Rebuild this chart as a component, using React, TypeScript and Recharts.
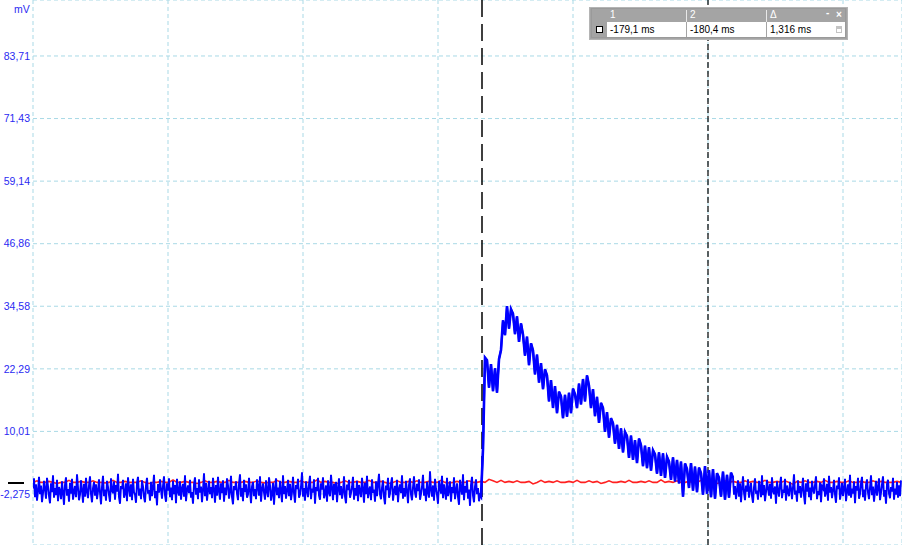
import { LineChart, Line, XAxis, YAxis, CartesianGrid, ReferenceLine } from 'recharts'

// channel A (blue) before the trigger, 1 px per sample
const preTrigger = [
  -1.2, 0.8, -2.9, -0.4, -3.6, -1.7, 1.1, -2.3, -0.6, -3.9, -2.1, 0.3, -1.4, -3.2, 0.9, -0.8,
  -2.7, -4.1, -0.2, -1.9, 1.4, -3.0, -1.1, -2.5, 0.5, -3.7, -0.9, -1.6, -3.3, 0.2, -2.0, -4.4,
  -0.5, 1.0, -2.6, -1.3, -3.8, -0.1, -2.2, 0.7, -3.4, -1.8, -0.7, -2.9, 1.6, -1.0, -3.5, -2.4,
  0.4, -1.5, -4.0, -0.3, -2.8, 0.9, -1.9, -3.1, -0.6, 1.2, -2.3, -3.9, -1.1, 0.1, -2.6, -0.4,
  -3.3, -1.7, 0.6, -2.0, -4.3, -0.8, 1.3, -2.7, -1.4, -3.6, 0.3, -0.9, -2.5, -3.8, 0.8, -1.6,
  -2.1, 0.2, -3.4, -0.5, -1.8, 1.7, -2.9, -4.2, -0.7, -1.3, 0.5, -3.0, -2.2, -0.2, -3.7, 1.0,
  -1.1, -2.8, -0.4, -3.5, 0.7, -1.9, -2.4, -4.0, -0.1, 1.1, -2.6, -1.2, -3.3, 0.4, -0.8, -2.9,
  -3.9, -0.6, 0.9, -2.2, -1.5, -3.6, 0.1, -2.7, -0.9, 1.5, -3.1, -1.7, -4.5, -0.3, -2.0, 0.6,
  -1.4, -3.2, -0.7, 1.2, -2.5, -3.8, -0.2, -1.6, 0.8, -2.9, -1.0, -3.5, 0.3, -2.3, -0.5, -4.1,
  0.7, -1.8, -2.6, 0.2, -3.4, -1.2, -0.3, -2.8, 1.4, -3.7, -1.5, -0.6, -2.1, 0.5, -3.0, -1.9,
  -4.2, -0.4, 1.0, -2.4, -1.1, -3.3, 0.6, -2.0, -0.8, -3.9, -1.4, 1.8, -2.7, -0.1, -3.6, -1.6,
  0.3, -2.3, -0.9, -3.1, 0.9, -1.3, -4.0, -0.5, -2.6, 1.1, -1.7, -3.4, -0.2, -2.1, 0.4, -3.8,
  -1.0, -2.5, 0.8, -0.6, -3.2, -1.8, 1.3, -2.9, -4.3, -0.7, -1.5, 0.2, -2.2, -3.5, -0.3, 1.6,
  -2.8, -1.1, -3.7, 0.5, -1.9, -0.4, -3.0, -2.4, 0.9, -1.6, -4.1, -0.8, 0.1, -2.7, -1.3, -3.3,
  0.6, -0.9, -2.6, 1.2, -3.8, -1.4, -0.2, -2.0, -3.4, 0.4, -1.7, -2.9, 1.0, -0.6, -3.6, -2.2,
  -0.1, -4.4, -1.2, 0.8, -2.5, -1.0, -3.1, 0.3, -1.8, -3.9, 1.4, -2.3, -0.7, -3.2, -1.5, 0.5,
  -2.7, -0.3, -3.5, -1.9, 1.1, -2.1, -4.0, -0.5, -1.3, 0.7, -3.0, -2.4, -0.8, 2.0, -2.8, -1.1,
  -3.6, 0.2, -1.6, -2.9, -0.4, 1.3, -3.3, -1.2, -2.0, 0.6, -4.2, -0.9, -1.7, 0.9, -2.6, -3.4,
  -0.2, -1.4, 1.0, -3.1, -2.2, -0.6, -3.8, 0.4, -1.9, -2.7, 1.5, -1.0, -3.5, -0.3, -2.4, 0.1,
  -3.9, -1.3, 0.8, -2.5, -0.7, -3.2, -1.8, 1.2, -2.8, -4.1, -0.4, -1.5, 0.5, -3.0, -2.1, -0.9,
  1.1, -3.4, -1.1, -2.6, 0.3, -3.7, -0.5, -1.7, -2.9, 0.9, -1.2, -4.0, -0.1, -2.3, 1.3, -3.1,
  -1.6, -0.8, -3.5, 0.6, -2.0, -1.4, -3.8, 0.2, -2.7, -0.3, 1.7, -2.4, -3.3, -1.0, 0.4, -2.9,
  -4.3, -0.6, -1.5, 0.9, -3.0, -2.2, -0.2, 1.0, -3.6, -1.8, -0.7, -2.5, 0.5, -3.9, -1.3, -0.4,
  -2.1, 1.4, -3.2, -1.1, -2.8, 0.3, -1.6, -4.1, -0.5, 0.8, -2.4, -3.5, -0.9, 1.2, -2.0, -3.0,
  -0.3, -1.7, 0.6, -3.4, -2.3, -0.8, 1.5, -2.6, -1.2, -3.7, 0.1, -1.9, -3.0, 2.2, -1.4, -2.8,
  -0.6, -3.6, 0.7, -1.3, -2.5, -4.2, 0.3, -1.0, -2.2, 1.3, -3.1, -0.4, -1.8, -3.4, 0.9, -2.7,
  -1.5, 0.2, -3.8, -0.9, -2.1, 1.0, -3.3, -1.6, -0.2, -2.9, -4.4, 0.5, -1.2, -2.4, 1.6, -3.5,
  -0.7, -2.0, 0.4, -3.2, -1.4, -4.6, -0.5, 1.1, -2.6, -3.9, -0.8, 0.6, -2.3, -1.1, -3.7, -2.5,
]

// trigger edge and evoked response, 2 px per sample
const onset = [-2.8, 6.5, 24.5]

const response = [
  24.0, 18.6, 23.2, 17.9, 22.4, 17.6, 24.2, 26.0, 31.8, 28.9, 34.6, 30.2, 34.0, 33.1, 29.1, 32.6,
  27.6, 31.2, 29.0, 24.9, 28.6, 23.0, 27.3, 25.9, 21.2, 25.1, 19.6, 23.4, 18.3, 22.2, 21.0, 15.9,
  20.1, 14.6, 18.9, 13.6, 17.8, 16.9, 12.6, 17.2, 12.9, 17.6, 13.6, 18.4, 17.3, 14.6, 19.4, 15.3,
  20.3, 15.9, 21.0, 19.0, 14.6, 18.3, 13.0, 16.8, 11.7, 15.6, 14.6, 9.9, 13.8, 8.8, 12.6, 11.6,
  7.6, 11.3, 6.6, 10.6, 5.9, 9.9, 9.1, 4.8, 9.2, 4.4, 8.3, 3.8, 8.6, 7.3, 3.2, 7.2,
  2.8, 6.9, 2.3, 6.3, 5.5, 1.7, 5.9, 1.3, 5.7, 0.9, 5.0, 4.1, 0.5, 4.9, 0.2, 4.4,
  -0.2, 4.1, -2.8, 3.7, 2.6, -1.1, 3.8, -1.6, 3.1, -1.9, 2.9, 1.8, -2.4, 3.2, -2.2, 2.4,
  -2.9, 2.6, -3.2, 1.8, 0.9, -2.8, 2.1, -3.4, 1.5, -3.0, 1.9,
]

// back on the baseline, 1 px per sample
const tail = [
  0.9, -2.4, -0.7, -3.3, -1.5, 0.4, -2.8, -0.2, -3.9, -1.1, 1.2, -2.0, -3.5, -0.6, -1.8, 0.6,
  -3.0, -1.3, -0.1, -2.7, -4.0, -0.9, 0.8, -2.2, -1.6, -3.4, 0.3, -1.0, -2.9, 1.4, -2.5, -0.5,
  -3.7, -1.9, 0.5, -1.2, -2.6, -0.3, -3.2, 1.0, -1.7, -2.3, -0.8, -4.2, 0.2, -1.5, -2.8, -0.4,
  1.1, -3.1, -1.4, -2.0, 0.7, -3.6, -0.6, -1.9, -2.7, 0.1, -1.1, -3.3, -0.9, 1.6, -2.4, -1.6,
  -3.8, 0.4, -2.1, -0.7, -3.0, -1.3, 0.9, -2.6, -4.3, -0.2, -1.8, 0.6, -2.9, -1.0, -3.5, 0.3,
  -1.4, -2.2, -0.5, 1.2, -3.3, -1.7, -2.5, 0.0, -3.9, -0.8, -1.2, 0.8, -2.8, -1.9, -0.3, -3.6,
  1.3, -2.0, -0.9, -3.1, -1.5, 0.5, -2.4, -4.0, -0.6, -1.3, 1.0, -3.4, -2.1, -0.1, -2.7, -1.1,
  0.7, -3.7, -1.8, -0.4, -2.6, 1.5, -3.0, -1.2, -2.2, 0.2, -4.1, -0.7, -1.6, 0.9, -3.2, -2.3,
  -0.2, 1.1, -2.9, -1.4, -3.6, -0.5, 0.6, -2.0, -3.3, -1.0, 1.4, -2.5, -0.8, -3.8, -1.7, 0.3,
  -2.6, -1.1, 0.8, -3.5, -2.0, -0.4, 1.2, -2.8, -1.5, -4.2, -0.3, 0.5, -2.2, -3.1, -0.9, -1.8,
  0.9, -3.4, -1.2, -2.4, 0.1, -3.0, -0.6, -2.7, 0.4,
]

// channel B (red), 4 px per sample
const channelB = [
  0, 0.3, 0, 0, 0.2, 0, -0.2, 0, 0, 0.4, 0, 0, 0.2, 0, 0, 0.3,
  0, 0, -0.1, 0, 0.4, 0, 0, 0.2, 0, 0, 0, 0.3, 0, -0.2, 0, 0,
  0.2, 0, 0, 0.5, 0, 0, 0.2, 0, 0, -0.2, 0, 0.3, 0, 0, 0.2, 0,
  0, 0.4, 0, 0, 0, 0.2, 0, 0, 0.3, 0, -0.1, 0, 0, 0.4, 0, 0,
  0.2, 0, 0, 0.3, 0, 0, 0, 0.5, 0, 0.2, 0, 0, -0.2, 0, 0.3, 0,
  0, 0.2, 0, 0, 0.4, 0, 0, 0.2, 0, -0.2, 0, 0.3, 0, 0, 0.2, 0,
  0.3, 0, 0, 0.2, 0, 0, 0.4, 0, -0.1, 0, 0.2, 0, 0, 0.3, 0, 0,
  0.2, 0, 0.6, 0.3, 0, 0.4, 0, 0.2, 0, 0.3, 0, 0, 0.2, -0.3, 0, 0.4,
  0, 0.2, 0, 0.3, 0, 0, 0.2, 0, 0.4, 0, 0, 0.3, 0, 0.2, -0.2, 0,
  0.3, 0, 0, 0.2, 0, 0.4, 0, 0, 0.2, 0, 0.3, 0, 0, 0.5, 0, 0.2,
  0, 0.3, 0, 0, 0.2, 0, 0, 0.4, 0, 0.2, 0, -0.2, 0, 0.3, 0, 0.2,
  0, 0, 0.3, 0, 0.2, 0, 0, 0.4, 0, 0, 0.2, 0, 0.3, 0, -0.4, 0.2,
  0, 0.3, 0, 0, 0.2, 0, 0.4, 0, 0, 0.2, 0, 0, 0.3, 0, 0, 0.2,
  0, 0, 0.3, 0, 0.2, 0, 0, 0, 0.2, 0,
]

const yTicks = [-2.275, 10.01, 22.29, 34.58, 46.86, 59.14, 71.43, 83.71]
const xGrid = [0, 135, 270, 405, 540, 675, 810]
const cursor1 = 449
const cursor2 = 675
const cursorRow = ['-179,1 ms', '-180,4 ms', '1,316 ms']

// time base: each segment has its own sample step
const segments: [number[], number][] = [
  [preTrigger, 1],
  [[...onset, ...response], 2],
  [tail, 1],
]
const blueData: { x: number; a: number }[] = []
let t = 0
segments.forEach(([vals, step]) => {
  vals.forEach((v) => {
    blueData.push({ x: t, a: v })
    t += step
  })
})
// the evoked part gets drawn a bit heavier, like the dense trace on screen
const evokedData = blueData.slice(preTrigger.length - 1, preTrigger.length + onset.length + response.length + 1)
const redData = channelB.map((v, i) => ({ x: i * 4, b: v }))

const fmt = (v: number) => String(v).replace('.', ',')

const font = '"Liberation Sans", Arial, sans-serif'

function CursorBox() {
  const cell: React.CSSProperties = {
    position: 'absolute',
    top: 14,
    height: 15,
    background: '#fff',
    fontSize: 10,
    lineHeight: '15px',
    color: '#000',
    paddingLeft: 3,
    boxSizing: 'border-box',
  }
  const head: React.CSSProperties = {
    position: 'absolute',
    top: 0,
    fontSize: 10,
    lineHeight: '13px',
    color: '#fff',
  }
  return (
    <div
      style={{
        position: 'absolute',
        left: 589,
        top: 7,
        width: 259,
        height: 33,
        border: '1px solid #b4b4b4',
        background: '#a4a4a4',
        boxSizing: 'border-box',
        fontFamily: font,
      }}
    >
      <div style={{ position: 'absolute', left: 1, top: 0, width: 255, height: 30, border: '1px solid #9a9a9a', boxSizing: 'border-box' }} />
      <span style={{ ...head, left: 20 }}>1</span>
      <span style={{ ...head, left: 100 }}>2</span>
      <span style={{ ...head, left: 180 }}>Δ</span>
      <div style={{ position: 'absolute', left: 96, top: 2, width: 1, height: 12, background: '#e8e8e8' }} />
      <div style={{ position: 'absolute', left: 176, top: 2, width: 1, height: 12, background: '#e8e8e8' }} />
      <span style={{ ...head, left: 236, top: -2, fontWeight: 700 }}>-</span>
      <span style={{ ...head, left: 246, fontWeight: 700 }}>×</span>
      <div style={{ position: 'absolute', left: 6, top: 18, width: 7, height: 7, border: '1px solid #000', background: '#fff', boxSizing: 'border-box' }} />
      <div style={{ ...cell, left: 17, width: 79 }}>{cursorRow[0]}</div>
      <div style={{ ...cell, left: 97, width: 79 }}>{cursorRow[1]}</div>
      <div style={{ ...cell, left: 177, width: 78 }}>{cursorRow[2]}</div>
      <div style={{ position: 'absolute', left: 246, top: 18, width: 6, height: 7, border: '1px solid #c4c4c4', borderTopWidth: 3, boxSizing: 'border-box' }} />
    </div>
  )
}

export default function App() {
  return (
    <div style={{ position: 'absolute', left: 0, top: 0, width: 902, height: 545, background: '#fff', overflow: 'hidden' }}>
      <LineChart width={902} height={545} margin={{ top: 0, right: 0, bottom: 0, left: 0 }}>
        <CartesianGrid strokeDasharray="4 3" stroke="#a9d9e6" />
        <XAxis type="number" dataKey="x" domain={[0, 869]} ticks={xGrid} hide allowDataOverflow />
        <YAxis
          type="number"
          domain={[-12.29, 94.7]}
          ticks={yTicks}
          width={33}
          axisLine={false}
          tickLine={false}
          tickSize={0}
          tickMargin={3}
          tickFormatter={fmt}
          tick={{ fill: '#2a2af2', fontSize: 10.5, fontFamily: font }}
          allowDataOverflow
        />
        <ReferenceLine x={cursor1} stroke="#000" strokeWidth={1.5} strokeDasharray="17 7" />
        <ReferenceLine x={cursor2} stroke="#000" strokeWidth={1.2} strokeDasharray="6 3" />
        <Line
          data={redData}
          dataKey="b"
          type="linear"
          stroke="#ff2020"
          strokeWidth={1.6}
          dot={false}
          activeDot={false}
          isAnimationActive={false}
        />
        <Line
          data={blueData}
          dataKey="a"
          type="linear"
          stroke="#0000ff"
          strokeWidth={1.9}
          dot={false}
          activeDot={false}
          isAnimationActive={false}
        />
        <Line
          data={evokedData}
          dataKey="a"
          type="linear"
          stroke="#0000ff"
          strokeWidth={2.6}
          dot={false}
          activeDot={false}
          isAnimationActive={false}
        />
      </LineChart>
      <div style={{ position: 'absolute', left: 14, top: 3, fontSize: 10.5, color: '#2a2af2', fontFamily: font }}>mV</div>
      <div style={{ position: 'absolute', left: 8, top: 482, width: 16, height: 1.5, background: '#000' }} />
      <CursorBox />
    </div>
  )
}
